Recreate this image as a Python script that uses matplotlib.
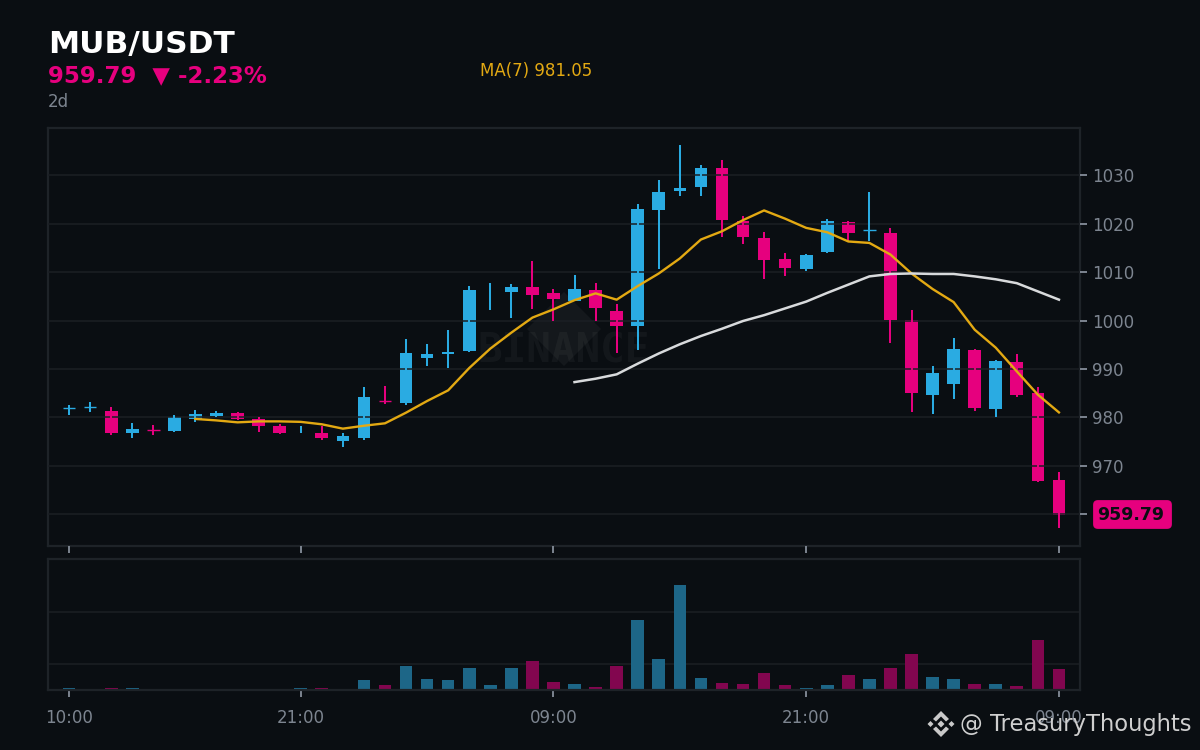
import matplotlib
matplotlib.use("Agg")
import matplotlib.pyplot as plt
from matplotlib.patches import Polygon, FancyBboxPatch

# ---------- data ----------
opens = [981.9, 982.1, 981.4, 976.9, 977.5, 977.3, 979.6, 980.4, 981.0, 979.6, 978.2, 977.5,
         976.9, 975.1, 975.7, 983.4, 982.9, 992.2, 993.0, 993.8, 1005.0, 1005.8, 1007.0, 1005.6,
         1004.1, 1006.2, 1001.9, 998.8, 1022.7, 1026.8, 1027.6, 1031.5, 1020.6, 1017.1, 1012.6, 1010.7,
         1014.2, 1020.4, 1018.6, 1018.1, 1000.2, 984.7, 987.0, 994.0, 981.7, 991.5, 985.0, 967.2]
closes = [982.0, 982.2, 976.9, 977.7, 977.4, 980.0, 980.8, 981.0, 979.6, 978.2, 976.9, 977.5,
          975.7, 976.1, 984.3, 983.3, 993.2, 993.0, 993.6, 1006.2, 1005.0, 1007.0, 1005.2, 1004.5,
          1006.4, 1002.5, 998.8, 1022.9, 1026.6, 1027.4, 1031.5, 1020.8, 1017.3, 1012.4, 1010.9, 1013.6,
          1020.6, 1018.1, 1018.7, 1000.2, 985.0, 989.1, 994.2, 981.9, 991.7, 984.7, 967.0, 959.79]
highs = [982.5, 983.1, 982.1, 978.8, 978.4, 980.6, 981.6, 981.4, 981.2, 980.0, 978.6, 978.2,
         978.2, 976.7, 986.2, 986.4, 996.1, 995.1, 998.1, 1007.2, 1007.8, 1007.6, 1012.2, 1006.6,
         1009.3, 1007.8, 1003.5, 1024.1, 1028.9, 1036.1, 1032.0, 1033.0, 1021.6, 1018.3, 1014.0, 1013.8,
         1021.0, 1020.6, 1026.6, 1019.0, 1002.1, 990.7, 996.3, 994.2, 991.9, 993.0, 986.2, 968.7]
lows = [980.5, 981.1, 976.4, 975.7, 976.4, 977.1, 979.0, 980.0, 979.4, 977.1, 976.5, 976.7,
        975.3, 974.0, 975.3, 982.7, 982.5, 990.7, 990.3, 993.6, 1002.1, 1000.6, 1002.3, 999.8,
        1004.1, 999.8, 993.4, 994.0, 1010.7, 1025.6, 1025.6, 1017.3, 1015.7, 1008.5, 1009.1, 1010.3,
        1014.0, 1016.5, 1016.3, 995.3, 981.2, 980.8, 983.9, 981.4, 980.0, 984.3, 966.6, 957.3]
volumes = [1, 0.3, 1, 1, 0, 0.3, 0, 0, 0, 0, 0, 1,
           1, 0.3, 9, 4, 23, 10, 9, 21, 4, 21, 28, 7,
           5, 2, 23, 69, 30, 104, 11, 6, 5, 16, 4, 1,
           4, 14, 10, 21, 35, 12, 10, 5, 5, 3, 49, 20]
ma7 = [979.7, 979.4, 979.0, 979.2, 979.2, 979.1, 978.6, 977.7, 978.3, 978.8,
       981.0, 983.4, 985.6, 990.2, 994.2, 997.5, 1000.6, 1002.3, 1004.2, 1005.6, 1004.3,
       1007.1, 1009.7, 1012.8, 1016.7, 1018.4, 1020.7, 1022.7, 1021.0, 1019.1, 1018.2, 1016.3,
       1016.0, 1013.6, 1009.7, 1006.5, 1003.8, 998.1, 994.4, 989.5, 984.7, 981.05]
ma25 = [987.3, 988.0, 988.9, 991.1, 993.2, 995.1, 996.8, 998.3, 999.9, 1001.1, 1002.5, 1003.9,
        1005.7, 1007.4, 1009.1, 1009.6, 1009.7, 1009.6, 1009.6, 1009.1, 1008.5, 1007.7, 1006.0, 1004.3]
price_ticks = [960, 970, 980, 990, 1000, 1010, 1020, 1030]
price_labels = ["", "970", "980", "990", "1000", "1010", "1020", "1030"]
time_positions = [0, 11, 23, 35, 47]
time_labels = ["10:00", "21:00", "09:00", "21:00", "09:00"]
volume_grid = [25, 77]

# ---------- style ----------
BG = "#0a0e12"
UP = "#2aabe2"
DOWN = "#e6007e"
UP_V = "#1d6687"
DOWN_V = "#82064f"
GRID = "#1b1f24"
SPINE = "#1e2328"
MUTED = "#7d8590"
GOLD = "#e3a912"
W, H = 1200, 750

plt.rcParams["font.family"] = ["DejaVu Sans"]
fig = plt.figure(figsize=(12, 7.5), dpi=100, facecolor=BG)


def rect(x0, y0, x1, y1):
    return [x0 / W, 1 - y1 / H, (x1 - x0) / W, (y1 - y0) / H]


def fx(x, y):
    return (x / W, 1 - y / H)


ax = fig.add_axes(rect(48, 128, 1080, 546), facecolor=BG)
vax = fig.add_axes(rect(48, 559, 1080, 690), facecolor=BG, sharex=ax)

n = len(opens)
xs = list(range(n))
is_up = [c >= o for o, c in zip(opens, closes)]
colors = [UP if u else DOWN for u in is_up]

# watermark behind the candles
fig.add_artist(Polygon([fx(564, 292), fx(601, 329), fx(564, 366), fx(527, 329)],
                       closed=True, transform=fig.transFigure, facecolor=(1, 1, 1, 0.042),
                       edgecolor="none", zorder=1.5))
ax.set_zorder(2)
ax.patch.set_alpha(0)
fig.text(*fx(564, 351), "BINANCE", color=(1, 1, 1, 0.04), fontsize=29.5, family="DejaVu Sans Mono",
         fontweight="bold", ha="center", va="center", zorder=1.6)

ax.bar(xs, [abs(c - o) for o, c in zip(opens, closes)], bottom=[min(o, c) for o, c in zip(opens, closes)],
       width=0.6, color=colors, linewidth=0, zorder=2.1)
for i in xs:
    if 0 < abs(closes[i] - opens[i]) < 0.5:
        ax.hlines((opens[i] + closes[i]) / 2, i - 0.3, i + 0.3, colors=colors[i], linewidth=1.0, zorder=2.1)

ax.set_yticks(price_ticks)
ax.set_yticklabels(price_labels)
ax.grid(True, axis="y", color=GRID, linewidth=1.1)
ax.set_axisbelow(False)
ax.xaxis.grid(False)
for g in ax.get_ygridlines():
    g.set_zorder(3)

ax.vlines(xs, lows, highs, colors=colors, linewidth=1.45, zorder=4)
ax.plot(xs[6:], ma7, color=GOLD, linewidth=1.7, zorder=5, solid_joinstyle="round")
ax.plot(xs[24:], ma25, color="#d8dadc", linewidth=1.8, zorder=5, solid_joinstyle="round")

ax.set_xlim(-1, 48)
ax.set_ylim(953.5, 1039.7)
ax.yaxis.tick_right()
ax.tick_params(axis="y", labelcolor=MUTED, labelsize=12, length=5, width=1.4, color=MUTED, pad=3.5)
ax.tick_params(axis="x", length=5, width=1.4, color=MUTED, labelbottom=False)
ax.set_xticks(time_positions)

vax.bar(xs, volumes, width=0.6, color=[UP_V if u else DOWN_V for u in is_up], linewidth=0, zorder=2)
vax.set_ylim(-1, 130)
vax.set_yticks(volume_grid)
vax.tick_params(axis="y", left=False, right=False, labelleft=False)
vax.grid(True, axis="y", color=GRID, linewidth=1.1, zorder=1)
vax.xaxis.grid(False)
vax.set_xticks(time_positions)
vax.set_xticklabels(time_labels)
vax.tick_params(axis="x", labelcolor=MUTED, labelsize=12, length=5, width=1.4, color=MUTED, pad=9)

for a in (ax, vax):
    for s in a.spines.values():
        s.set_color(SPINE)
        s.set_linewidth(1.6)

# header
fig.text(48 / W, 1 - 44 / H, "MUB/USDT", color="white", fontsize=22.5, fontweight="bold", va="center", ha="left")
fig.text(48 / W, 1 - 76 / H, "959.79  \u25bc -2.23%", color=DOWN, fontsize=16.5, fontweight="bold", va="center", ha="left")
fig.text(48 / W, 1 - 102 / H, "2d", color=MUTED, fontsize=12, va="center", ha="left")
fig.text(480 / W, 1 - 70.5 / H, "MA(7) 981.05", color=GOLD, fontsize=12, va="center", ha="left")

# last-price tag
fig.add_artist(FancyBboxPatch(fx(1095.5, 526.5), 74 / W, 24 / H, boxstyle="round,pad=0.002,rounding_size=0.004",
                              transform=fig.transFigure, facecolor=DOWN, edgecolor="none", zorder=6,
                              mutation_aspect=1.6))
fig.text(1131 / W, 1 - 514.5 / H, "959.79", color="#0a0e12", fontsize=12.5, fontweight="bold",
         ha="center", va="center", zorder=7)

# footer brand
LOGO = "#c9c9c9"
cx, cy = 941, 724
shapes = [
    [(0, -3.5), (3.5, 0), (0, 3.5), (-3.5, 0)],
    [(-13.5, 0), (-10.5, -3), (-7.5, 0), (-10.5, 3)],
    [(13.5, 0), (10.5, -3), (7.5, 0), (10.5, 3)],
    [(0, -13), (8, -5), (5, -2.5), (0, -7.5), (-5, -2.5), (-8, -5)],
    [(0, 13), (8, 5), (5, 2.5), (0, 7.5), (-5, 2.5), (-8, 5)],
]
for s in shapes:
    fig.add_artist(Polygon([fx(cx + dx, cy + dy) for dx, dy in s], closed=True, transform=fig.transFigure,
                           facecolor=LOGO, edgecolor="none", zorder=8))
fig.text(960 / W, 1 - 725 / H, "@ TreasuryThoughts", color="#cfcfcf", fontsize=16.3, va="center", ha="left", zorder=8)

fig.savefig("out.png", dpi=100, facecolor=BG)
